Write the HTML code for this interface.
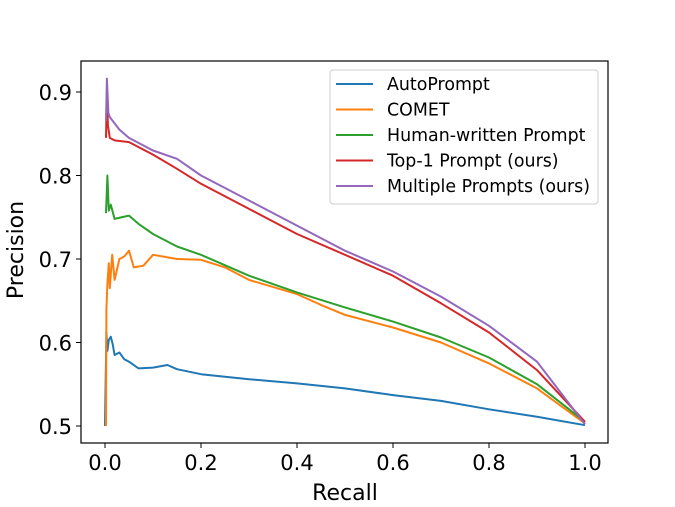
<!DOCTYPE html>
<html><head><meta charset="utf-8"><style>
body{margin:0;background:#fff}
svg{display:block;font-family:"DejaVu Sans","Liberation Sans",sans-serif}
</style></head><body>
<svg id="chart" width="675" height="507" viewBox="0 0 675 507" xmlns="http://www.w3.org/2000/svg">
<rect x="0" y="0" width="675" height="507" fill="#fff"/>
<g id="series"></g>
<g id="axes"></g>
<g id="legend"></g>
</svg>
<script>
const xTicks=[0,0.2,0.4,0.6,0.8,1.0];
const xTickLabels=["0.0","0.2","0.4","0.6","0.8","1.0"];
const yTicks=[0.5,0.6,0.7,0.8,0.9];
const yTickLabels=["0.5","0.6","0.7","0.8","0.9"];
const seriesNames=["AutoPrompt","COMET","Human-written Prompt","Top-1 Prompt (ours)","Multiple Prompts (ours)"];
const autoR=[0,0.003,0.005,0.008,0.012,0.016,0.02,0.03,0.04,0.05,0.07,0.1,0.13,0.15,0.2,0.3,0.4,0.5,0.6,0.7,0.8,0.9,1.0];
const autoP=[0.5,0.612,0.59,0.603,0.607,0.598,0.585,0.588,0.58,0.577,0.569,0.57,0.573,0.568,0.562,0.556,0.551,0.545,0.537,0.53,0.52,0.511,0.501];
const cometR=[0.002,0.003,0.005,0.008,0.01,0.015,0.02,0.03,0.04,0.05,0.06,0.08,0.1,0.15,0.2,0.25,0.3,0.4,0.45,0.5,0.6,0.7,0.8,0.9,1.0];
const cometP=[0.5,0.64,0.67,0.695,0.665,0.705,0.675,0.7,0.703,0.71,0.69,0.692,0.705,0.7,0.699,0.69,0.675,0.658,0.645,0.633,0.618,0.6,0.575,0.545,0.503];
const humanR=[0.002,0.005,0.008,0.012,0.02,0.05,0.07,0.1,0.15,0.2,0.3,0.4,0.5,0.6,0.7,0.8,0.9,1.0];
const humanP=[0.755,0.8,0.758,0.765,0.748,0.752,0.742,0.73,0.715,0.705,0.68,0.66,0.642,0.625,0.606,0.582,0.55,0.505];
const top1R=[0.002,0.004,0.006,0.01,0.02,0.05,0.1,0.15,0.2,0.3,0.4,0.5,0.6,0.7,0.8,0.9,1.0];
const top1P=[0.845,0.9,0.86,0.845,0.842,0.84,0.825,0.808,0.79,0.76,0.73,0.705,0.68,0.647,0.612,0.567,0.505];
const multiR=[0.002,0.004,0.007,0.01,0.03,0.05,0.1,0.15,0.2,0.3,0.4,0.5,0.6,0.7,0.8,0.9,1.0];
const multiP=[0.865,0.916,0.875,0.87,0.855,0.845,0.83,0.82,0.8,0.77,0.74,0.71,0.685,0.655,0.62,0.577,0.502];
const colors=["#1f77b4","#ff7f0e","#2ca02c","#d62728","#9467bd"];
const NS="http://www.w3.org/2000/svg";
const L=81,R=608,T=61,B=443;
function xs(v){return 105+v*480;}
function ys(v){return 426-(v-0.5)*835;}
function mk(tag,attrs,parent){const e=document.createElementNS(NS,tag);for(const k in attrs)e.setAttribute(k,attrs[k]);parent.appendChild(e);return e;}
const sg=document.getElementById('series');
const data=[[autoR,autoP],[cometR,cometP],[humanR,humanP],[top1R,top1P],[multiR,multiP]];
const keys=["autoprompt","comet","human-written-prompt","top1-prompt","multiple-prompts"];
data.forEach((d,i)=>{
  const pts=d[0].map((r,j)=>xs(r).toFixed(1)+","+ys(d[1][j]).toFixed(1)).join(" ");
  const pl=mk('polyline',{points:pts,fill:"none",stroke:colors[i],"stroke-width":2,"stroke-linejoin":"round"},sg);
  
  
});
const ag=document.getElementById('axes');
const fr=mk('rect',{x:L,y:T,width:R-L,height:B-T,fill:"none",stroke:"#000","stroke-width":1.2},ag);


xTicks.forEach((v,i)=>{
  mk('line',{x1:xs(v),x2:xs(v),y1:B,y2:B+5,stroke:"#000","stroke-width":1},ag);
  const t=mk('text',{x:xs(v),y:B+27,"text-anchor":"middle","font-size":21},ag);
  t.textContent=xTickLabels[i];
  
  
});
yTicks.forEach((v,i)=>{
  mk('line',{x1:L-5,x2:L,y1:ys(v),y2:ys(v),stroke:"#000","stroke-width":1},ag);
  const t=mk('text',{x:L-9,y:ys(v)+8,"text-anchor":"end","font-size":21},ag);
  t.textContent=yTickLabels[i];
  
  
});
const xt=mk('text',{x:345,y:500,"text-anchor":"middle","font-size":22},ag);
xt.textContent="Recall";


const yt=mk('text',{x:0,y:0,"text-anchor":"middle","font-size":22,transform:"translate(23,250) rotate(-90)"},ag);
yt.textContent="Precision";


const lg=document.getElementById('legend');
const lb=mk('rect',{x:330,y:70,width:268,height:134,rx:3,fill:"#fff","fill-opacity":0.85,stroke:"#ccc","stroke-width":1},lg);


seriesNames.forEach((n,i)=>{
  const y=84+i*25.5;
  const ln=mk('line',{x1:336,x2:373,y1:y,y2:y,stroke:colors[i],"stroke-width":2},lg);
  
  
  const t=mk('text',{x:387,y:y+6,"font-size":17.4},lg);
  t.textContent=n;
  
  
});
</script>
</body></html>
